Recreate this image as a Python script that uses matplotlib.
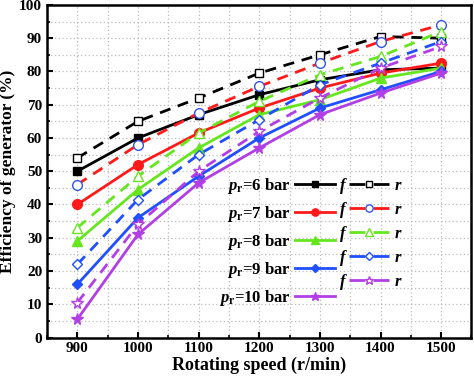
import numpy as np
import matplotlib
matplotlib.use("Agg")
import matplotlib.pyplot as plt
from matplotlib.lines import Line2D
from matplotlib.ticker import MultipleLocator

plt.rcParams['font.family'] = ['Liberation Serif', 'DejaVu Serif']
plt.rcParams['font.weight'] = 'bold'
plt.rcParams['mathtext.fontset'] = 'custom'
plt.rcParams['mathtext.it'] = 'Liberation Serif:bold:italic'
plt.rcParams['mathtext.rm'] = 'Liberation Serif:bold'

# rotating speed (r/min)
speed = [900, 1000, 1100, 1200, 1300, 1400, 1500]

# generator efficiency (%), f = forward, r = reverse
eff_f_6 = [50, 60, 67, 73, 77.5, 80.5, 81]
eff_r_6 = [54, 65, 72, 79.5, 85, 90.5, 90]
eff_f_7 = [40, 52, 61.5, 69, 75, 79.5, 82.5]
eff_r_7 = [46, 58, 67.5, 75.5, 82.5, 89, 94]
eff_f_8 = [29, 44.5, 57, 67, 71.5, 78, 81]
eff_r_8 = [33, 48.5, 61.5, 71, 79, 84.5, 92]
eff_f_9 = [16, 36, 48.5, 60, 69, 74.5, 80]
eff_r_9 = [22, 41.5, 55, 65.5, 76, 82.5, 89]
eff_f_10 = [5.5, 31, 46.5, 57, 67, 73.5, 79.5]
eff_r_10 = [10.5, 34, 50, 62, 72, 81, 87.5]

pressures = [6, 7, 8, 9, 10]
series_f = [eff_f_6, eff_f_7, eff_f_8, eff_f_9, eff_f_10]
series_r = [eff_r_6, eff_r_7, eff_r_8, eff_r_9, eff_r_10]

colors = ['black', '#ff1a1a', '#66e61f', '#1f4fff', '#b23fe6']
mk_edge_r = ['black', '#3355e6', '#66e61f', '#1f4fff', '#b23fe6']
markers = ['s', 'o', '^', 'D', '*']
msizes = [6, 7, 7, 5.5, 8.5]

fig = plt.figure(figsize=(4.74, 3.78), dpi=100)
ax = fig.add_axes([0.0992, 0.107, 0.8955, 0.880])

hf, hr = [], []
for i in range(5):
    lf, = ax.plot(speed, series_f[i], color=colors[i], lw=2, marker=markers[i],
                  ms=msizes[i], mfc=colors[i], mec=colors[i], zorder=3)
    ax.plot(speed, series_r[i], color=colors[i], lw=2, dashes=(4, 2.8),
            marker=markers[i], ms=msizes[i], mfc='white', mec=mk_edge_r[i],
            mew=1, zorder=3)
    hf.append(lf)
    # legend proxy so the key reads dash - marker - dash
    hr.append(Line2D([], [], color=colors[i], lw=2, dashes=(5.7, 3),
                     marker=markers[i], ms=msizes[i], mfc='white',
                     mec=mk_edge_r[i], mew=1))

ax.set_xlim(850, 1550)
ax.set_ylim(0, 100)
ax.xaxis.set_major_locator(MultipleLocator(100))
ax.xaxis.set_minor_locator(MultipleLocator(50))
ax.yaxis.set_major_locator(MultipleLocator(10))
ax.yaxis.set_minor_locator(MultipleLocator(5))
ax.set_xticks(speed)
ax.grid(True, which='both', color='#bbbbbb', ls=(0, (1, 2)), lw=0.9)
ax.set_axisbelow(True)
ax.tick_params(which='both', direction='in', top=False, right=False, labelsize=11)
ax.tick_params(which='major', length=4, width=1.5)
ax.tick_params(which='minor', length=2.5, width=1.2)
for s in ax.spines.values():
    s.set_linewidth(1.8)

ax.set_xlabel('Rotating speed (r/min)', fontsize=13, fontweight='bold', labelpad=1)
ax.set_ylabel('Efficiency of generator (%)', fontsize=12.5, fontweight='bold', labelpad=2)

# legend: "p_r=x bar" -f- "f" -r- "r"
blank = Line2D([], [], ls='none')
handles = hf + hr + [blank] * 5
labels = [r'$\it{p}_{\rm{r}}$=%d bar' % p for p in pressures] + ['f'] * 5 + ['r'] * 5
leg = ax.legend(handles, labels, ncol=3, markerfirst=False, frameon=False,
                loc='upper left', bbox_to_anchor=(0.385, 0.512), borderpad=0,
                handlelength=2.4, handletextpad=0.25, columnspacing=0.3,
                labelspacing=0.48, markerscale=0.75,
                prop={'size': 12, 'weight': 'bold'})
for t in leg.get_texts()[5:]:
    t.set_fontstyle('italic')

fig.savefig('out.png', dpi=100)
